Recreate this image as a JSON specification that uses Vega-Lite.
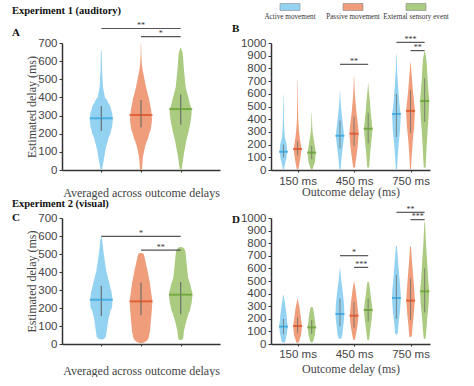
{
"$schema":"https://vega.github.io/schema/vega-lite/v6.json",
"padding":{"left":12,"top":2,"right":0,"bottom":0},
"background":"white",
"spacing":0,
"config":{
 "view":{"stroke":null},
 "axis":{"grid":false,"domainColor":"#333","tickColor":"#333","labelColor":"#444","labelFont":"Liberation Sans","labelFontSize":11.5,"titleFont":"Liberation Serif","titleFontWeight":"normal","titleColor":"#444","titleFontSize":12,"domainWidth":1.5,"labelAngle":0},
 "title":{"font":"Liberation Serif","fontWeight":"bold","fontSize":11,"anchor":"start","color":"#111"}
},
"datasets":{
 "legend":[{"cond":"Active movement"},{"cond":"Passive movement"},{"cond":"External sensory event"}],
 "violins":[
  {"panel":"A","cond":"Active movement","slot":"A","v":[658,550,459,400,369,331,300,276,250,220,165,110,55,5],"d":[2,5,10,22,40,60,68,70,67,60,40,25,15,5]},
  {"panel":"A","cond":"Passive movement","slot":"P","v":[698,640,585,551,459,386,330,303,276,239,184,129,73,5],"d":[1,2,5,10,30,50,62,65,67,62,45,25,12,6]},
  {"panel":"A","cond":"External sensory event","slot":"E","v":[671,643,551,459,386,331,320,276,220,165,92,18,2],"d":[3,12,20,30,50,65,67,62,50,35,20,8,4]},
  {"panel":"B","delay":"150 ms","cond":"Active movement","slot":"150A","v":[590,500,400,300,262,197,144,94,40,10],"d":[1,2,3,6,8,20,23,18,8,4]},
  {"panel":"B","delay":"150 ms","cond":"Passive movement","slot":"150P","v":[703,550,400,315,236,165,105,40,10],"d":[1,2,4,8,15,24,18,10,5]},
  {"panel":"B","delay":"150 ms","cond":"External sensory event","slot":"150E","v":[449,350,291,213,137,66,26,10],"d":[1,3,6,16,25,20,10,6]},
  {"panel":"B","delay":"450 ms","cond":"Active movement","slot":"450A","v":[622,560,499,394,315,270,184,105,10],"d":[1,3,6,15,22,25,18,10,4]},
  {"panel":"B","delay":"450 ms","cond":"Passive movement","slot":"450P","v":[735,650,577,446,341,286,184,105,26],"d":[1,3,6,15,25,28,22,14,6]},
  {"panel":"B","delay":"450 ms","cond":"External sensory event","slot":"450E","v":[682,620,577,446,325,236,131,26],"d":[1,4,8,16,26,20,12,6]},
  {"panel":"B","delay":"750 ms","cond":"Active movement","slot":"750A","v":[913,787,656,525,441,420,315,210,105,10],"d":[1,4,10,18,25,26,22,14,8,4]},
  {"panel":"B","delay":"750 ms","cond":"Passive movement","slot":"750P","v":[848,761,630,525,465,341,236,131,10],"d":[1,6,14,22,27,22,14,8,3]},
  {"panel":"B","delay":"750 ms","cond":"External sensory event","slot":"750E","v":[924,850,709,577,543,420,315,184,26],"d":[4,12,18,26,28,24,18,12,6]},
  {"panel":"C","cond":"Active movement","slot":"A","v":[593,574,500,407,333,278,246,220,185,130,65,52],"d":[2,6,15,30,50,64,68,67,55,42,32,30]},
  {"panel":"C","cond":"Passive movement","slot":"P","v":[487,480,407,333,259,237,200,148,74,50],"d":[20,22,40,55,66,69,67,62,55,50]},
  {"panel":"C","cond":"External sensory event","slot":"E","v":[513,505,444,370,315,274,240,204,130,74,37],"d":[28,30,36,45,62,72,68,60,35,20,16]},
  {"panel":"D","delay":"150 ms","cond":"Active movement","slot":"150A","v":[391,317,238,138,93,26],"d":[1,10,18,26,22,12]},
  {"panel":"D","delay":"150 ms","cond":"Passive movement","slot":"150P","v":[357,288,209,143,77,22],"d":[1,12,20,27,22,10]},
  {"panel":"D","delay":"150 ms","cond":"External sensory event","slot":"150E","v":[283,270,209,132,77,25],"d":[8,10,18,24,20,10]},
  {"panel":"D","delay":"450 ms","cond":"Active movement","slot":"450A","v":[601,503,424,317,238,159,79,53],"d":[1,8,16,25,27,22,15,10]},
  {"panel":"D","delay":"450 ms","cond":"Passive movement","slot":"450P","v":[497,423,317,225,159,79,40],"d":[1,10,20,26,22,12,6]},
  {"panel":"D","delay":"450 ms","cond":"External sensory event","slot":"450E","v":[484,397,317,270,185,106,40],"d":[6,14,22,26,20,12,6]},
  {"panel":"D","delay":"750 ms","cond":"Active movement","slot":"750A","v":[775,661,529,423,365,264,172,85],"d":[3,10,18,25,27,22,14,8]},
  {"panel":"D","delay":"750 ms","cond":"Passive movement","slot":"750P","v":[772,635,503,397,344,238,132,66],"d":[3,10,18,24,26,20,12,8]},
  {"panel":"D","delay":"750 ms","cond":"External sensory event","slot":"750E","v":[966,794,635,503,418,317,212,106,48],"d":[2,8,16,22,28,24,16,10,6]}
 ],
 "stats":[
  {"panel":"A","cond":"Active movement","slot":"A","med":285,"lo":215,"hi":353},
  {"panel":"A","cond":"Passive movement","slot":"P","med":303,"lo":235,"hi":386},
  {"panel":"A","cond":"External sensory event","slot":"E","med":336,"lo":250,"hi":416},
  {"panel":"B","cond":"Active movement","slot":"150A","med":144,"lo":100,"hi":200},
  {"panel":"B","cond":"Passive movement","slot":"150P","med":165,"lo":115,"hi":225},
  {"panel":"B","cond":"External sensory event","slot":"150E","med":137,"lo":85,"hi":190},
  {"panel":"B","cond":"Active movement","slot":"450A","med":270,"lo":170,"hi":390},
  {"panel":"B","cond":"Passive movement","slot":"450P","med":286,"lo":190,"hi":420},
  {"panel":"B","cond":"External sensory event","slot":"450E","med":325,"lo":210,"hi":450},
  {"panel":"B","cond":"Active movement","slot":"750A","med":441,"lo":260,"hi":600},
  {"panel":"B","cond":"Passive movement","slot":"750P","med":465,"lo":290,"hi":630},
  {"panel":"B","cond":"External sensory event","slot":"750E","med":543,"lo":380,"hi":720},
  {"panel":"C","cond":"Active movement","slot":"A","med":246,"lo":155,"hi":324},
  {"panel":"C","cond":"Passive movement","slot":"P","med":237,"lo":160,"hi":340},
  {"panel":"C","cond":"External sensory event","slot":"E","med":274,"lo":165,"hi":345},
  {"panel":"D","cond":"Active movement","slot":"150A","med":138,"lo":80,"hi":200},
  {"panel":"D","cond":"Passive movement","slot":"150P","med":143,"lo":85,"hi":210},
  {"panel":"D","cond":"External sensory event","slot":"150E","med":132,"lo":80,"hi":190},
  {"panel":"D","cond":"Active movement","slot":"450A","med":238,"lo":140,"hi":360},
  {"panel":"D","cond":"Passive movement","slot":"450P","med":225,"lo":130,"hi":330},
  {"panel":"D","cond":"External sensory event","slot":"450E","med":270,"lo":180,"hi":360},
  {"panel":"D","cond":"Active movement","slot":"750A","med":365,"lo":200,"hi":550},
  {"panel":"D","cond":"Passive movement","slot":"750P","med":344,"lo":190,"hi":520},
  {"panel":"D","cond":"External sensory event","slot":"750E","med":418,"lo":250,"hi":600}
 ],
 "sig":[
  {"panel":"A","pair":"A-E","from":"A","to":"E","level":780,"star":"**"},
  {"panel":"A","pair":"P-E","from":"P","to":"E","level":735,"star":"*"},
  {"panel":"B","pair":"A-E","from":"450A","to":"450E","level":832,"star":"**"},
  {"panel":"B","pair":"A-E","from":"750A","to":"750E","level":1005,"star":"***"},
  {"panel":"B","pair":"P-E","from":"750P","to":"750E","level":940,"star":"**"},
  {"panel":"C","pair":"A-E","from":"A","to":"E","level":598,"star":"*"},
  {"panel":"C","pair":"P-E","from":"P","to":"E","level":522,"star":"**"},
  {"panel":"D","pair":"A-E","from":"450A","to":"450E","level":701,"star":"*"},
  {"panel":"D","pair":"P-E","from":"450P","to":"450E","level":608,"star":"***"},
  {"panel":"D","pair":"A-E","from":"750A","to":"750E","level":1045,"star":"**"},
  {"panel":"D","pair":"P-E","from":"750P","to":"750E","level":987,"star":"***"}
 ]
},
"vconcat":[
 {
 "spacing":0,
 "vconcat":[
 {
  "width":354,"height":8,
  "title":{"text":"Experiment 1 (auditory)","offset":-14,"fontSize":10.5,"dx":-50},
  "data":{"name":"legend"},
  "layer":[
   {"mark":{"type":"point","shape":"M-1.43,-0.5H1.43V0.5H-1.43Z","size":196,"filled":true,"opacity":1,"stroke":"#8a8a8a","strokeWidth":0.6},
    "encoding":{"x":{"field":"cond","type":"nominal","scale":{"type":"point","domain":["s1","s2","s3","Active movement","Passive movement","External sensory event"],"padding":0.31,"align":1},"axis":null},
     "fill":{"field":"cond","type":"nominal","scale":{"domain":["Active movement","Passive movement","External sensory event"],"range":["#93d3f1","#ef9d7b","#aacb80"]},"legend":null}}},
   {"mark":{"type":"text","dy":10,"font":"Liberation Serif","fontSize":7.2,"color":"#333"},
    "encoding":{"x":{"field":"cond","type":"nominal","scale":{"type":"point","domain":["s1","s2","s3","Active movement","Passive movement","External sensory event"],"padding":0.31,"align":1},"axis":null},
     "text":{"field":"cond"}}}
  ]
 },
 {
  "bounds":"flush",
  "hconcat":[
   {
    "width":158,"height":127,
    "title":{"text":"A","frame":"group","dx":-50,"offset":-16},
    "layer":[
     {"data":{"name":"violins"},"transform":[{"filter":"datum.panel=='A'"},{"flatten":["v","d"]}],
      "mark":{"type":"trail"},
      "encoding":{
       "x":{"field":"slot","type":"nominal","scale":{"type":"point","domain":["A","P","E"],"padding":0.99,"align":0.5},"axis":{"labels":false,"tickSize":2,"title":"Averaged across outcome delays","titlePadding":15}},
       "y":{"field":"v","type":"quantitative","scale":{"domain":[0,700],"nice":false},"axis":{"values":[0,100,200,300,400,500,600,700],"format":"d","title":"Estimated delay (ms)","titlePadding":-1,"tickSize":3,"labelPadding":2}},
       "size":{"field":"d","type":"quantitative","scale":{"domain":[0,70],"range":[0,23]},"legend":null},
       "color":{"field":"cond","type":"nominal","scale":{"domain":["Active movement","Passive movement","External sensory event"],"range":["#93d3f1","#ef9d7b","#aacb80"]},"legend":null},
       "detail":{"field":"slot"},
       "order":{"field":"v","type":"quantitative"}}},
     {"data":{"name":"stats"},"transform":[{"filter":"datum.panel=='A'"}],
      "mark":{"type":"rule","color":"#6e6e6e","strokeWidth":1.2},
      "encoding":{
       "x":{"field":"slot","type":"nominal","scale":{"type":"point","domain":["A","P","E"],"padding":0.99,"align":0.5},"axis":{"labels":false,"tickSize":2,"title":"Averaged across outcome delays","titlePadding":15}},
       "y":{"field":"lo","type":"quantitative","scale":{"domain":[0,700],"nice":false},"axis":{"values":[0,100,200,300,400,500,600,700],"format":"d","title":"Estimated delay (ms)","titlePadding":-1,"tickSize":3,"labelPadding":2}},
       "y2":{"field":"hi"}}},
     {"data":{"name":"stats"},"transform":[{"filter":"datum.panel=='A'"}],
      "mark":{"type":"tick","thickness":2,"size":23,"orient":"horizontal"},
      "encoding":{
       "x":{"field":"slot","type":"nominal","scale":{"type":"point","domain":["A","P","E"],"padding":0.99,"align":0.5},"axis":{"labels":false,"tickSize":2,"title":"Averaged across outcome delays","titlePadding":15}},
       "y":{"field":"med","type":"quantitative","scale":{"domain":[0,700],"nice":false},"axis":{"values":[0,100,200,300,400,500,600,700],"format":"d","title":"Estimated delay (ms)","titlePadding":-1,"tickSize":3,"labelPadding":2}},
       "color":{"field":"cond","type":"nominal","scale":{"domain":["Active movement","Passive movement","External sensory event"],"range":["#2d9ed8","#d9481c","#5f9d2b"]},"legend":null}}},
     {"data":{"name":"sig"},"transform":[{"filter":"datum.panel=='A'"}],
      "mark":{"type":"rule","color":"#555","strokeWidth":1.2},
      "encoding":{
       "x":{"field":"from","type":"nominal","scale":{"type":"point","domain":["A","P","E"],"padding":0.99,"align":0.5},"axis":{"labels":false,"tickSize":2,"title":"Averaged across outcome delays","titlePadding":15}},
       "x2":{"field":"to"},
       "y":{"field":"level","type":"quantitative","scale":{"domain":[0,700],"nice":false},"axis":{"values":[0,100,200,300,400,500,600,700],"format":"d","title":"Estimated delay (ms)","titlePadding":-1,"tickSize":3,"labelPadding":2}}}},
     {"data":{"name":"sig"},"transform":[{"filter":"datum.panel=='A' && datum.pair=='A-E'"}],
      "mark":{"type":"text","dx":-39.7,"dy":-2.5,"baseline":"middle","fontSize":8,"font":"Liberation Serif","color":"#333"},
      "encoding":{
       "x":{"field":"to","type":"nominal","scale":{"type":"point","domain":["A","P","E"],"padding":0.99,"align":0.5},"axis":{"labels":false,"tickSize":2,"title":"Averaged across outcome delays","titlePadding":15}},
       "y":{"field":"level","type":"quantitative","scale":{"domain":[0,700],"nice":false},"axis":{"values":[0,100,200,300,400,500,600,700],"format":"d","title":"Estimated delay (ms)","titlePadding":-1,"tickSize":3,"labelPadding":2}},
       "text":{"field":"star"}}},
     {"data":{"name":"sig"},"transform":[{"filter":"datum.panel=='A' && datum.pair=='P-E'"}],
      "mark":{"type":"text","dx":-19.85,"dy":-2.5,"baseline":"middle","fontSize":8,"font":"Liberation Serif","color":"#333"},
      "encoding":{
       "x":{"field":"to","type":"nominal","scale":{"type":"point","domain":["A","P","E"],"padding":0.99,"align":0.5},"axis":{"labels":false,"tickSize":2,"title":"Averaged across outcome delays","titlePadding":15}},
       "y":{"field":"level","type":"quantitative","scale":{"domain":[0,700],"nice":false},"axis":{"values":[0,100,200,300,400,500,600,700],"format":"d","title":"Estimated delay (ms)","titlePadding":-1,"tickSize":3,"labelPadding":2}},
       "text":{"field":"star"}}}
    ],
    "resolve":{"scale":{"color":"independent"}}
   },
   {
    "width":159,"height":127,
    "title":{"text":"B","frame":"group","dx":-39,"offset":2},
    "layer":[
     {"data":{"name":"violins"},"transform":[{"filter":"datum.panel=='B'"},{"flatten":["v","d"]}],
      "mark":{"type":"trail"},
      "encoding":{
       "x":{"field":"slot","type":"nominal","scale":{"type":"point","domain":["150A","150P","150E","g1","450A","450P","450E","g2","750A","750P","750E"],"padding":0.63,"align":0.7},"axis":{"labelExpr":"datum.value=='150P'?'150 ms':datum.value=='450P'?'450 ms':datum.value=='750P'?'750 ms':''","labelOverlap":false,"tickSize":2,"tickOpacity":{"condition":{"test":"indexof(datum.value,'P')>0","value":1},"value":0},"title":"Outcome delay (ms)","titlePadding":0,"labelPadding":3}},
       "y":{"field":"v","type":"quantitative","scale":{"domain":[0,1000],"nice":false},"axis":{"values":[0,100,200,300,400,500,600,700,800,900,1000],"format":"d","title":null,"tickSize":3,"labelPadding":2}},
       "size":{"field":"d","type":"quantitative","scale":{"domain":[0,28],"range":[0,9.3]},"legend":null},
       "color":{"field":"cond","type":"nominal","scale":{"domain":["Active movement","Passive movement","External sensory event"],"range":["#93d3f1","#ef9d7b","#aacb80"]},"legend":null},
       "detail":{"field":"slot"},
       "order":{"field":"v","type":"quantitative"}}},
     {"data":{"name":"stats"},"transform":[{"filter":"datum.panel=='B'"}],
      "mark":{"type":"rule","color":"#6e6e6e","strokeWidth":0.8},
      "encoding":{
       "x":{"field":"slot","type":"nominal","scale":{"type":"point","domain":["150A","150P","150E","g1","450A","450P","450E","g2","750A","750P","750E"],"padding":0.63,"align":0.7},"axis":{"labelExpr":"datum.value=='150P'?'150 ms':datum.value=='450P'?'450 ms':datum.value=='750P'?'750 ms':''","labelOverlap":false,"tickSize":2,"tickOpacity":{"condition":{"test":"indexof(datum.value,'P')>0","value":1},"value":0},"title":"Outcome delay (ms)","titlePadding":0,"labelPadding":3}},
       "y":{"field":"lo","type":"quantitative","scale":{"domain":[0,1000],"nice":false},"axis":{"values":[0,100,200,300,400,500,600,700,800,900,1000],"format":"d","title":null,"tickSize":3,"labelPadding":2}},
       "y2":{"field":"hi"}}},
     {"data":{"name":"stats"},"transform":[{"filter":"datum.panel=='B'"}],
      "mark":{"type":"tick","thickness":2,"size":9,"orient":"horizontal"},
      "encoding":{
       "x":{"field":"slot","type":"nominal","scale":{"type":"point","domain":["150A","150P","150E","g1","450A","450P","450E","g2","750A","750P","750E"],"padding":0.63,"align":0.7},"axis":{"labelExpr":"datum.value=='150P'?'150 ms':datum.value=='450P'?'450 ms':datum.value=='750P'?'750 ms':''","labelOverlap":false,"tickSize":2,"tickOpacity":{"condition":{"test":"indexof(datum.value,'P')>0","value":1},"value":0},"title":"Outcome delay (ms)","titlePadding":0,"labelPadding":3}},
       "y":{"field":"med","type":"quantitative","scale":{"domain":[0,1000],"nice":false},"axis":{"values":[0,100,200,300,400,500,600,700,800,900,1000],"format":"d","title":null,"tickSize":3,"labelPadding":2}},
       "color":{"field":"cond","type":"nominal","scale":{"domain":["Active movement","Passive movement","External sensory event"],"range":["#2d9ed8","#d9481c","#5f9d2b"]},"legend":null}}},
     {"data":{"name":"sig"},"transform":[{"filter":"datum.panel=='B'"}],
      "mark":{"type":"rule","color":"#555","strokeWidth":1.2},
      "encoding":{
       "x":{"field":"from","type":"nominal","scale":{"type":"point","domain":["150A","150P","150E","g1","450A","450P","450E","g2","750A","750P","750E"],"padding":0.63,"align":0.7},"axis":{"labelExpr":"datum.value=='150P'?'150 ms':datum.value=='450P'?'450 ms':datum.value=='750P'?'750 ms':''","labelOverlap":false,"tickSize":2,"tickOpacity":{"condition":{"test":"indexof(datum.value,'P')>0","value":1},"value":0},"title":"Outcome delay (ms)","titlePadding":0,"labelPadding":3}},
       "x2":{"field":"to"},
       "y":{"field":"level","type":"quantitative","scale":{"domain":[0,1000],"nice":false},"axis":{"values":[0,100,200,300,400,500,600,700,800,900,1000],"format":"d","title":null,"tickSize":3,"labelPadding":2}}}},
     {"data":{"name":"sig"},"transform":[{"filter":"datum.panel=='B' && datum.pair=='A-E'"}],
      "mark":{"type":"text","dx":-14.1,"dy":-2.5,"baseline":"middle","fontSize":8,"font":"Liberation Serif","color":"#333"},
      "encoding":{
       "x":{"field":"to","type":"nominal","scale":{"type":"point","domain":["150A","150P","150E","g1","450A","450P","450E","g2","750A","750P","750E"],"padding":0.63,"align":0.7},"axis":{"labelExpr":"datum.value=='150P'?'150 ms':datum.value=='450P'?'450 ms':datum.value=='750P'?'750 ms':''","labelOverlap":false,"tickSize":2,"tickOpacity":{"condition":{"test":"indexof(datum.value,'P')>0","value":1},"value":0},"title":"Outcome delay (ms)","titlePadding":0,"labelPadding":3}},
       "y":{"field":"level","type":"quantitative","scale":{"domain":[0,1000],"nice":false},"axis":{"values":[0,100,200,300,400,500,600,700,800,900,1000],"format":"d","title":null,"tickSize":3,"labelPadding":2}},
       "text":{"field":"star"}}},
     {"data":{"name":"sig"},"transform":[{"filter":"datum.panel=='B' && datum.pair=='P-E'"}],
      "mark":{"type":"text","dx":-7,"dy":-2.5,"baseline":"middle","fontSize":8,"font":"Liberation Serif","color":"#333"},
      "encoding":{
       "x":{"field":"to","type":"nominal","scale":{"type":"point","domain":["150A","150P","150E","g1","450A","450P","450E","g2","750A","750P","750E"],"padding":0.63,"align":0.7},"axis":{"labelExpr":"datum.value=='150P'?'150 ms':datum.value=='450P'?'450 ms':datum.value=='750P'?'750 ms':''","labelOverlap":false,"tickSize":2,"tickOpacity":{"condition":{"test":"indexof(datum.value,'P')>0","value":1},"value":0},"title":"Outcome delay (ms)","titlePadding":0,"labelPadding":3}},
       "y":{"field":"level","type":"quantitative","scale":{"domain":[0,1000],"nice":false},"axis":{"values":[0,100,200,300,400,500,600,700,800,900,1000],"format":"d","title":null,"tickSize":3,"labelPadding":2}},
       "text":{"field":"star"}}}
    ],
    "resolve":{"scale":{"color":"independent"}}
   }
  ],
  "spacing":51
 }
 ]
 },
 {
  "title":{"text":"Experiment 2 (visual)","fontSize":10.5,"offset":-4},
  "bounds":"flush",
  "hconcat":[
   {
    "width":158,"height":126,
    "title":{"text":"C","frame":"group","dx":-50,"offset":-11},
    "layer":[
     {"data":{"name":"violins"},"transform":[{"filter":"datum.panel=='C'"},{"flatten":["v","d"]}],
      "mark":{"type":"trail"},
      "encoding":{
       "x":{"field":"slot","type":"nominal","scale":{"type":"point","domain":["A","P","E"],"padding":0.99,"align":0.5},"axis":{"labels":false,"tickSize":2,"title":"Averaged across outcome delays","titlePadding":19}},
       "y":{"field":"v","type":"quantitative","scale":{"domain":[0,700],"nice":false},"axis":{"values":[0,100,200,300,400,500,600,700],"format":"d","title":"Estimated delay (ms)","titlePadding":-1,"tickSize":3,"labelPadding":2}},
       "size":{"field":"d","type":"quantitative","scale":{"domain":[0,70],"range":[0,23]},"legend":null},
       "color":{"field":"cond","type":"nominal","scale":{"domain":["Active movement","Passive movement","External sensory event"],"range":["#93d3f1","#ef9d7b","#aacb80"]},"legend":null},
       "detail":{"field":"slot"},
       "order":{"field":"v","type":"quantitative"}}},
     {"data":{"name":"stats"},"transform":[{"filter":"datum.panel=='C'"}],
      "mark":{"type":"rule","color":"#6e6e6e","strokeWidth":1.2},
      "encoding":{
       "x":{"field":"slot","type":"nominal","scale":{"type":"point","domain":["A","P","E"],"padding":0.99,"align":0.5},"axis":{"labels":false,"tickSize":2,"title":"Averaged across outcome delays","titlePadding":19}},
       "y":{"field":"lo","type":"quantitative","scale":{"domain":[0,700],"nice":false},"axis":{"values":[0,100,200,300,400,500,600,700],"format":"d","title":"Estimated delay (ms)","titlePadding":-1,"tickSize":3,"labelPadding":2}},
       "y2":{"field":"hi"}}},
     {"data":{"name":"stats"},"transform":[{"filter":"datum.panel=='C'"}],
      "mark":{"type":"tick","thickness":2,"size":23,"orient":"horizontal"},
      "encoding":{
       "x":{"field":"slot","type":"nominal","scale":{"type":"point","domain":["A","P","E"],"padding":0.99,"align":0.5},"axis":{"labels":false,"tickSize":2,"title":"Averaged across outcome delays","titlePadding":19}},
       "y":{"field":"med","type":"quantitative","scale":{"domain":[0,700],"nice":false},"axis":{"values":[0,100,200,300,400,500,600,700],"format":"d","title":"Estimated delay (ms)","titlePadding":-1,"tickSize":3,"labelPadding":2}},
       "color":{"field":"cond","type":"nominal","scale":{"domain":["Active movement","Passive movement","External sensory event"],"range":["#2d9ed8","#d9481c","#5f9d2b"]},"legend":null}}},
     {"data":{"name":"sig"},"transform":[{"filter":"datum.panel=='C'"}],
      "mark":{"type":"rule","color":"#555","strokeWidth":1.2},
      "encoding":{
       "x":{"field":"from","type":"nominal","scale":{"type":"point","domain":["A","P","E"],"padding":0.99,"align":0.5},"axis":{"labels":false,"tickSize":2,"title":"Averaged across outcome delays","titlePadding":19}},
       "x2":{"field":"to"},
       "y":{"field":"level","type":"quantitative","scale":{"domain":[0,700],"nice":false},"axis":{"values":[0,100,200,300,400,500,600,700],"format":"d","title":"Estimated delay (ms)","titlePadding":-1,"tickSize":3,"labelPadding":2}}}},
     {"data":{"name":"sig"},"transform":[{"filter":"datum.panel=='C' && datum.pair=='A-E'"}],
      "mark":{"type":"text","dx":-39.7,"dy":-2.5,"baseline":"middle","fontSize":8,"font":"Liberation Serif","color":"#333"},
      "encoding":{
       "x":{"field":"to","type":"nominal","scale":{"type":"point","domain":["A","P","E"],"padding":0.99,"align":0.5},"axis":{"labels":false,"tickSize":2,"title":"Averaged across outcome delays","titlePadding":19}},
       "y":{"field":"level","type":"quantitative","scale":{"domain":[0,700],"nice":false},"axis":{"values":[0,100,200,300,400,500,600,700],"format":"d","title":"Estimated delay (ms)","titlePadding":-1,"tickSize":3,"labelPadding":2}},
       "text":{"field":"star"}}},
     {"data":{"name":"sig"},"transform":[{"filter":"datum.panel=='C' && datum.pair=='P-E'"}],
      "mark":{"type":"text","dx":-19.85,"dy":-2.5,"baseline":"middle","fontSize":8,"font":"Liberation Serif","color":"#333"},
      "encoding":{
       "x":{"field":"to","type":"nominal","scale":{"type":"point","domain":["A","P","E"],"padding":0.99,"align":0.5},"axis":{"labels":false,"tickSize":2,"title":"Averaged across outcome delays","titlePadding":19}},
       "y":{"field":"level","type":"quantitative","scale":{"domain":[0,700],"nice":false},"axis":{"values":[0,100,200,300,400,500,600,700],"format":"d","title":"Estimated delay (ms)","titlePadding":-1,"tickSize":3,"labelPadding":2}},
       "text":{"field":"star"}}}
    ],
    "resolve":{"scale":{"color":"independent"}}
   },
   {
    "width":159,"height":126,
    "title":{"text":"D","frame":"group","dx":-39,"offset":-19},
    "layer":[
     {"data":{"name":"violins"},"transform":[{"filter":"datum.panel=='D'"},{"flatten":["v","d"]}],
      "mark":{"type":"trail"},
      "encoding":{
       "x":{"field":"slot","type":"nominal","scale":{"type":"point","domain":["150A","150P","150E","g1","450A","450P","450E","g2","750A","750P","750E"],"padding":0.63,"align":0.7},"axis":{"labelExpr":"datum.value=='150P'?'150 ms':datum.value=='450P'?'450 ms':datum.value=='750P'?'750 ms':''","labelOverlap":false,"tickSize":2,"tickOpacity":{"condition":{"test":"indexof(datum.value,'P')>0","value":1},"value":0},"title":"Outcome delay (ms)","titlePadding":4,"labelPadding":2}},
       "y":{"field":"v","type":"quantitative","scale":{"domain":[0,1000],"nice":false},"axis":{"values":[0,100,200,300,400,500,600,700,800,900,1000],"format":"d","title":null,"tickSize":3,"labelPadding":2}},
       "size":{"field":"d","type":"quantitative","scale":{"domain":[0,28],"range":[0,9.3]},"legend":null},
       "color":{"field":"cond","type":"nominal","scale":{"domain":["Active movement","Passive movement","External sensory event"],"range":["#93d3f1","#ef9d7b","#aacb80"]},"legend":null},
       "detail":{"field":"slot"},
       "order":{"field":"v","type":"quantitative"}}},
     {"data":{"name":"stats"},"transform":[{"filter":"datum.panel=='D'"}],
      "mark":{"type":"rule","color":"#6e6e6e","strokeWidth":0.8},
      "encoding":{
       "x":{"field":"slot","type":"nominal","scale":{"type":"point","domain":["150A","150P","150E","g1","450A","450P","450E","g2","750A","750P","750E"],"padding":0.63,"align":0.7},"axis":{"labelExpr":"datum.value=='150P'?'150 ms':datum.value=='450P'?'450 ms':datum.value=='750P'?'750 ms':''","labelOverlap":false,"tickSize":2,"tickOpacity":{"condition":{"test":"indexof(datum.value,'P')>0","value":1},"value":0},"title":"Outcome delay (ms)","titlePadding":4,"labelPadding":2}},
       "y":{"field":"lo","type":"quantitative","scale":{"domain":[0,1000],"nice":false},"axis":{"values":[0,100,200,300,400,500,600,700,800,900,1000],"format":"d","title":null,"tickSize":3,"labelPadding":2}},
       "y2":{"field":"hi"}}},
     {"data":{"name":"stats"},"transform":[{"filter":"datum.panel=='D'"}],
      "mark":{"type":"tick","thickness":2,"size":9,"orient":"horizontal"},
      "encoding":{
       "x":{"field":"slot","type":"nominal","scale":{"type":"point","domain":["150A","150P","150E","g1","450A","450P","450E","g2","750A","750P","750E"],"padding":0.63,"align":0.7},"axis":{"labelExpr":"datum.value=='150P'?'150 ms':datum.value=='450P'?'450 ms':datum.value=='750P'?'750 ms':''","labelOverlap":false,"tickSize":2,"tickOpacity":{"condition":{"test":"indexof(datum.value,'P')>0","value":1},"value":0},"title":"Outcome delay (ms)","titlePadding":4,"labelPadding":2}},
       "y":{"field":"med","type":"quantitative","scale":{"domain":[0,1000],"nice":false},"axis":{"values":[0,100,200,300,400,500,600,700,800,900,1000],"format":"d","title":null,"tickSize":3,"labelPadding":2}},
       "color":{"field":"cond","type":"nominal","scale":{"domain":["Active movement","Passive movement","External sensory event"],"range":["#2d9ed8","#d9481c","#5f9d2b"]},"legend":null}}},
     {"data":{"name":"sig"},"transform":[{"filter":"datum.panel=='D'"}],
      "mark":{"type":"rule","color":"#555","strokeWidth":1.2},
      "encoding":{
       "x":{"field":"from","type":"nominal","scale":{"type":"point","domain":["150A","150P","150E","g1","450A","450P","450E","g2","750A","750P","750E"],"padding":0.63,"align":0.7},"axis":{"labelExpr":"datum.value=='150P'?'150 ms':datum.value=='450P'?'450 ms':datum.value=='750P'?'750 ms':''","labelOverlap":false,"tickSize":2,"tickOpacity":{"condition":{"test":"indexof(datum.value,'P')>0","value":1},"value":0},"title":"Outcome delay (ms)","titlePadding":4,"labelPadding":2}},
       "x2":{"field":"to"},
       "y":{"field":"level","type":"quantitative","scale":{"domain":[0,1000],"nice":false},"axis":{"values":[0,100,200,300,400,500,600,700,800,900,1000],"format":"d","title":null,"tickSize":3,"labelPadding":2}}}},
     {"data":{"name":"sig"},"transform":[{"filter":"datum.panel=='D' && datum.pair=='A-E'"}],
      "mark":{"type":"text","dx":-14.1,"dy":-2.5,"baseline":"middle","fontSize":8,"font":"Liberation Serif","color":"#333"},
      "encoding":{
       "x":{"field":"to","type":"nominal","scale":{"type":"point","domain":["150A","150P","150E","g1","450A","450P","450E","g2","750A","750P","750E"],"padding":0.63,"align":0.7},"axis":{"labelExpr":"datum.value=='150P'?'150 ms':datum.value=='450P'?'450 ms':datum.value=='750P'?'750 ms':''","labelOverlap":false,"tickSize":2,"tickOpacity":{"condition":{"test":"indexof(datum.value,'P')>0","value":1},"value":0},"title":"Outcome delay (ms)","titlePadding":4,"labelPadding":2}},
       "y":{"field":"level","type":"quantitative","scale":{"domain":[0,1000],"nice":false},"axis":{"values":[0,100,200,300,400,500,600,700,800,900,1000],"format":"d","title":null,"tickSize":3,"labelPadding":2}},
       "text":{"field":"star"}}},
     {"data":{"name":"sig"},"transform":[{"filter":"datum.panel=='D' && datum.pair=='P-E'"}],
      "mark":{"type":"text","dx":-7,"dy":-2.5,"baseline":"middle","fontSize":8,"font":"Liberation Serif","color":"#333"},
      "encoding":{
       "x":{"field":"to","type":"nominal","scale":{"type":"point","domain":["150A","150P","150E","g1","450A","450P","450E","g2","750A","750P","750E"],"padding":0.63,"align":0.7},"axis":{"labelExpr":"datum.value=='150P'?'150 ms':datum.value=='450P'?'450 ms':datum.value=='750P'?'750 ms':''","labelOverlap":false,"tickSize":2,"tickOpacity":{"condition":{"test":"indexof(datum.value,'P')>0","value":1},"value":0},"title":"Outcome delay (ms)","titlePadding":4,"labelPadding":2}},
       "y":{"field":"level","type":"quantitative","scale":{"domain":[0,1000],"nice":false},"axis":{"values":[0,100,200,300,400,500,600,700,800,900,1000],"format":"d","title":null,"tickSize":3,"labelPadding":2}},
       "text":{"field":"star"}}}
    ],
    "resolve":{"scale":{"color":"independent"}}
   }
  ],
  "spacing":51
 }
]
}
